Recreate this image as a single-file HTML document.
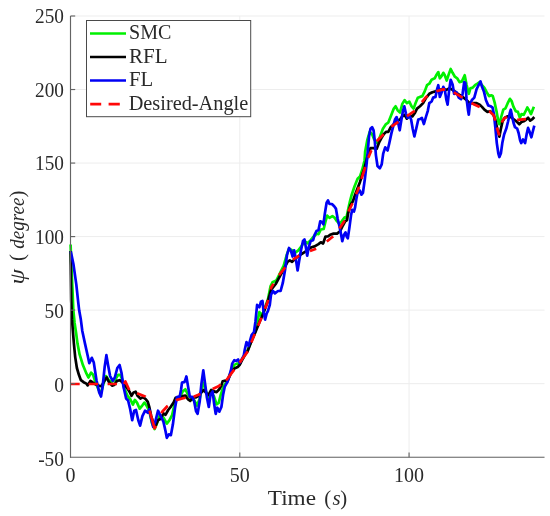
<!DOCTYPE html>
<html><head><meta charset="utf-8"><title>plot</title>
<style>
html,body{margin:0;padding:0;background:#fff;}
svg{display:block;}
text{font-family:"Liberation Serif","DejaVu Serif",serif;fill:#2a2a2a;}
</style></head><body>
<svg width="550" height="516" viewBox="0 0 550 516">
<rect width="550" height="516" fill="#fff"/>
<g stroke="#ededed" stroke-width="1" fill="none"><line x1="70.50" y1="16.0" x2="70.50" y2="457.2"/><line x1="239.79" y1="16.0" x2="239.79" y2="457.2"/><line x1="409.07" y1="16.0" x2="409.07" y2="457.2"/><line x1="70.5" y1="457.20" x2="544.5" y2="457.20"/><line x1="70.5" y1="383.67" x2="544.5" y2="383.67"/><line x1="70.5" y1="310.13" x2="544.5" y2="310.13"/><line x1="70.5" y1="236.60" x2="544.5" y2="236.60"/><line x1="70.5" y1="163.07" x2="544.5" y2="163.07"/><line x1="70.5" y1="89.53" x2="544.5" y2="89.53"/><line x1="70.5" y1="16.00" x2="544.5" y2="16.00"/></g>
<g fill="none" stroke-linejoin="round" stroke-linecap="butt" stroke-width="2.7">
<path stroke="#00f000" d="M70.6,244.5 L71.2,262.0 L72.5,290.0 L73.3,310.0 L74.6,323.0 L76.1,333.0 L77.5,343.6 L79.6,354.4 L83.0,365.3 L86.4,373.4 L88.4,377.5 L91.1,372.7 L93.1,374.8 L95.2,381.6 L98.6,389.7 L100.6,393.8 L103.3,384.3 L106.0,376.1 L108.7,380.2 L111.5,382.2 L114.8,380.2 L118.2,374.8 L120.3,374.8 L123.0,381.6 L124.0,387.6 L127.5,395.8 L130.2,399.2 L132.9,404.6 L134.9,399.9 L137.0,402.6 L139.7,408.7 L142.4,405.3 L144.4,402.6 L147.1,406.6 L149.2,410.7 L151.9,422.9 L154.6,429.0 L156.6,424.3 L159.3,416.1 L163.4,417.5 L166.8,423.6 L169.5,420.2 L172.2,414.8 L174.3,405.3 L177.0,397.8 L180.4,396.5 L182.7,391.4 L185.4,389.3 L188.1,394.8 L190.9,398.8 L194.2,400.2 L197.0,405.6 L199.7,398.8 L202.4,385.3 L203.7,382.6 L205.8,390.7 L208.5,397.5 L211.2,393.4 L213.9,396.1 L216.6,404.3 L218.7,402.9 L220.7,394.8 L223.4,386.6 L226.1,382.6 L228.8,377.1 L231.6,370.4 L234.3,364.9 L237.0,363.6 L239.7,363.6 L242.4,358.8 L245.1,354.1 L247.8,350.0 L251.0,342.0 L255.5,331.0 L259.4,312.0 L260.5,315.0 L263.3,312.5 L267.9,299.5 L270.6,286.0 L272.5,282.3 L276.4,280.4 L277.8,277.6 L283.6,265.8 L286.7,255.0 L289.0,248.8 L292.1,250.3 L295.2,252.6 L298.3,250.3 L301.4,246.4 L304.5,241.0 L307.6,243.3 L310.7,240.2 L313.8,236.4 L316.9,233.8 L318.5,234.2 L320.8,229.5 L323.7,229.0 L325.5,221.4 L327.2,215.6 L329.5,217.9 L332.4,216.2 L334.8,217.9 L337.1,221.4 L339.4,223.7 L341.7,221.4 L344.7,217.3 L346.4,217.9 L348.1,209.8 L349.9,201.6 L351.4,195.8 L354.5,186.5 L357.6,178.8 L360.0,176.4 L362.3,169.5 L364.6,160.2 L365.1,152.0 L367.4,139.6 L369.7,132.0 L372.0,134.0 L374.0,139.0 L376.7,142.7 L379.5,138.0 L382.9,128.8 L386.0,124.1 L388.3,122.6 L390.7,116.4 L393.8,108.6 L395.6,106.3 L397.6,110.2 L400.0,112.5 L402.3,103.9 L404.6,100.1 L406.9,103.2 L409.3,101.6 L411.6,106.3 L413.6,108.6 L415.5,103.2 L417.8,97.8 L420.0,96.9 L422.3,96.1 L424.7,91.4 L427.0,85.2 L429.3,83.7 L431.6,79.8 L434.7,78.3 L436.7,74.4 L438.3,72.1 L439.8,78.3 L441.7,75.9 L443.3,72.8 L444.8,75.2 L446.7,80.6 L448.7,74.4 L450.7,69.0 L452.6,72.8 L454.9,76.7 L457.2,78.3 L459.5,82.1 L461.9,81.4 L464.7,75.2 L466.5,84.5 L468.8,93.8 L470.4,88.3 L472.7,87.6 L475.0,85.2 L477.4,83.7 L479.7,82.1 L482.0,85.2 L484.3,87.6 L486.7,92.2 L489.0,96.1 L491.3,95.3 L492.7,95.9 L494.6,102.4 L496.5,111.2 L498.3,121.3 L499.4,124.2 L501.2,117.0 L503.3,109.7 L505.5,108.3 L507.7,103.2 L509.9,98.8 L511.6,101.0 L513.5,106.8 L515.7,111.2 L517.9,111.9 L519.8,117.7 L521.5,114.1 L523.7,114.8 L525.6,111.2 L527.3,107.5 L529.1,110.4 L531.0,114.1 L532.4,110.4 L533.9,106.8"/>
<path stroke="#000" d="M70.6,251.0 L70.9,275.0 L71.2,300.0 L72.0,319.4 L72.8,330.0 L73.9,343.6 L75.2,357.1 L76.9,368.0 L78.9,374.8 L80.9,380.2 L83.6,382.2 L86.4,383.6 L87.7,385.4 L90.4,380.9 L92.5,382.2 L95.2,384.3 L98.6,385.6 L101.3,386.3 L104.0,381.6 L106.7,377.5 L108.7,381.6 L112.1,385.6 L114.2,385.0 L116.9,380.9 L119.6,380.2 L121.6,381.6 L123.4,383.6 L126.8,387.6 L129.5,391.7 L131.5,395.8 L133.6,392.4 L135.6,391.7 L137.6,395.8 L140.4,398.5 L143.1,397.1 L145.8,399.2 L147.8,401.9 L149.2,406.6 L151.2,416.1 L153.9,424.3 L156.0,425.0 L158.0,420.2 L160.7,418.8 L163.4,413.4 L165.5,414.8 L168.2,410.0 L170.9,406.6 L173.6,402.6 L175.6,397.8 L178.3,397.1 L180.0,397.5 L182.7,396.1 L185.4,395.5 L188.1,399.5 L190.2,400.9 L192.9,397.5 L195.6,397.5 L198.3,396.1 L201.0,392.7 L203.7,390.0 L206.5,393.4 L208.5,394.8 L211.2,390.0 L213.9,391.4 L216.6,392.1 L219.3,389.3 L221.4,385.3 L222.7,381.2 L225.5,380.5 L227.5,381.2 L229.5,376.5 L232.2,370.4 L234.9,368.3 L237.7,367.0 L239.7,364.9 L242.4,359.5 L245.1,354.7 L247.8,350.7 L251.5,341.0 L255.5,332.0 L259.5,322.0 L263.3,313.4 L267.9,301.0 L271.0,290.0 L275.7,284.0 L280.5,275.1 L284.4,268.1 L287.5,261.9 L289.8,260.4 L292.1,261.9 L295.2,258.8 L299.1,255.7 L303.8,252.6 L308.4,249.5 L311.5,247.2 L314.6,246.4 L318.5,244.1 L320.8,242.3 L323.1,243.5 L325.5,236.5 L327.8,236.5 L330.1,234.8 L333.6,233.6 L337.1,233.6 L340.0,231.3 L342.9,225.5 L345.2,221.4 L347.0,220.2 L348.1,213.3 L350.5,205.1 L352.8,201.6 L355.1,194.7 L356.9,190.0 L360.0,181.9 L362.5,174.0 L364.6,167.9 L367.4,156.7 L370.5,148.1 L373.6,148.1 L376.7,148.9 L379.0,142.7 L381.4,138.1 L383.7,134.2 L386.0,131.9 L388.3,131.9 L390.7,127.2 L393.8,124.1 L396.9,121.0 L400.0,119.5 L402.3,116.4 L404.6,114.8 L406.9,118.7 L409.3,115.6 L412.4,116.4 L414.7,113.3 L417.0,108.6 L420.0,106.2 L423.1,103.1 L426.2,97.6 L429.3,93.8 L432.4,92.2 L435.5,91.4 L439.4,89.9 L443.3,89.1 L446.4,89.9 L449.5,88.3 L452.6,89.9 L455.7,92.2 L458.8,94.5 L462.6,96.9 L466.5,100.0 L469.6,103.1 L473.5,103.1 L476.6,103.1 L479.7,104.6 L482.0,106.9 L484.4,109.7 L487.4,111.9 L490.3,111.2 L493.2,114.1 L495.3,119.9 L497.5,130.1 L499.4,136.6 L500.9,128.6 L502.6,121.3 L504.8,117.7 L507.7,116.3 L510.6,117.0 L513.5,119.2 L516.4,121.3 L519.3,124.2 L521.5,122.1 L523.7,121.3 L525.9,119.9 L528.1,117.7 L530.2,120.6 L532.4,119.2 L534.3,117.0"/>
<path stroke="#0000f5" d="M70.8,251.5 L73.4,264.0 L76.3,284.4 L78.4,303.8 L79.2,310.6 L80.8,319.3 L82.3,331.0 L85.0,343.6 L87.7,355.8 L89.3,363.2 L91.8,357.8 L93.8,362.6 L96.5,380.2 L99.2,392.4 L101.0,396.5 L102.6,387.0 L104.7,366.6 L106.4,355.1 L108.1,365.3 L110.1,376.1 L112.8,380.9 L114.8,377.5 L117.3,368.0 L119.6,365.0 L121.6,373.4 L123.4,386.3 L126.1,398.5 L128.1,400.5 L130.2,409.3 L132.2,420.2 L134.2,410.7 L136.0,410.0 L138.3,420.2 L140.1,425.6 L142.4,416.1 L145.1,410.7 L147.8,412.7 L149.2,409.3 L151.2,418.8 L153.2,427.0 L155.3,421.6 L158.0,410.7 L160.7,416.1 L163.4,421.6 L165.5,431.0 L166.8,437.8 L168.8,434.4 L170.9,435.1 L172.9,424.3 L175.0,408.0 L177.0,397.1 L179.7,396.5 L181.0,390.0 L182.0,382.6 L184.7,381.9 L186.4,376.5 L188.1,386.6 L189.8,396.8 L192.2,396.8 L194.2,401.6 L196.0,411.0 L197.6,413.8 L199.7,401.6 L201.4,383.9 L203.3,370.4 L205.1,383.9 L206.9,397.5 L208.8,407.0 L210.5,394.8 L212.6,391.4 L214.2,404.3 L215.7,413.8 L217.3,407.7 L219.3,411.7 L221.4,407.0 L223.1,394.8 L224.8,386.6 L227.5,381.9 L229.1,376.5 L230.9,370.4 L232.2,363.6 L234.3,360.2 L236.3,360.9 L238.1,359.5 L239.7,362.9 L241.7,359.5 L243.8,355.4 L244.7,350.0 L246.5,342.1 L248.5,346.0 L251.6,335.1 L254.0,332.0 L255.5,321.2 L257.1,304.9 L259.4,307.2 L260.9,301.8 L262.5,301.0 L263.6,311.9 L265.1,319.6 L266.7,313.4 L267.9,311.1 L269.8,304.9 L271.0,294.8 L272.9,291.0 L274.9,293.3 L278.0,291.0 L280.6,291.0 L282.8,282.9 L285.2,268.9 L287.0,255.0 L289.0,248.0 L291.0,251.1 L292.6,256.5 L294.1,250.3 L295.7,258.1 L297.6,270.5 L299.1,261.2 L301.0,250.3 L303.0,241.0 L304.5,239.5 L306.1,248.8 L307.2,255.7 L308.7,247.2 L310.7,241.0 L313.1,240.2 L314.6,234.8 L316.7,230.7 L318.5,230.1 L320.2,221.4 L322.0,222.0 L323.4,224.3 L324.9,213.3 L326.6,202.8 L328.0,200.5 L329.5,204.0 L331.9,204.0 L334.2,206.3 L335.9,208.6 L337.7,219.1 L339.4,226.0 L340.8,233.0 L342.3,241.2 L343.8,235.3 L345.5,232.4 L346.6,236.5 L347.8,238.3 L349.3,228.4 L351.0,215.6 L352.2,209.8 L354.0,211.5 L355.1,207.4 L356.3,199.3 L357.4,193.5 L359.8,190.5 L361.5,194.7 L362.9,193.0 L364.9,178.8 L366.5,164.8 L367.7,152.4 L369.0,136.5 L370.5,128.8 L372.1,127.2 L373.6,130.3 L374.8,141.2 L375.9,155.1 L377.5,166.0 L379.8,168.3 L381.7,164.4 L383.2,153.6 L385.2,147.4 L387.6,150.5 L389.4,142.7 L391.4,133.4 L393.4,125.7 L395.0,119.5 L396.6,117.1 L398.1,122.6 L399.7,130.3 L401.2,121.0 L402.8,111.7 L404.3,106.3 L405.9,113.3 L407.4,117.9 L409.3,115.6 L411.1,119.5 L412.7,128.8 L414.4,136.5 L416.2,128.8 L418.3,119.5 L420.1,119.0 L421.9,118.0 L423.9,124.0 L425.9,117.0 L427.8,110.8 L429.3,103.1 L431.6,101.5 L433.2,97.6 L435.5,96.9 L437.1,89.1 L438.3,85.2 L439.8,96.9 L441.7,92.2 L443.3,86.8 L444.8,89.9 L446.4,100.0 L447.6,104.6 L449.1,90.7 L450.7,79.8 L452.6,84.5 L454.1,93.8 L456.4,92.2 L458.8,97.6 L461.1,99.2 L462.6,93.8 L464.2,82.1 L465.3,82.9 L466.5,98.4 L468.1,110.8 L468.8,114.7 L469.9,104.6 L471.9,100.0 L474.3,97.6 L476.6,89.1 L478.9,84.5 L480.5,81.4 L482.0,86.8 L483.9,91.4 L485.9,100.0 L488.2,105.4 L490.5,106.2 L492.6,107.7 L493.9,114.1 L495.3,127.2 L496.8,143.1 L498.3,153.3 L499.4,157.0 L500.9,153.3 L502.3,143.1 L504.1,134.4 L506.3,128.6 L508.1,121.3 L509.9,112.6 L510.8,109.7 L512.1,116.3 L513.5,122.8 L515.0,127.2 L517.2,128.6 L518.6,133.0 L520.1,140.2 L521.2,143.1 L523.0,139.5 L525.1,143.1 L526.6,134.4 L528.1,127.9 L529.5,131.5 L531.4,137.3 L532.8,131.5 L534.3,125.7"/>
<path stroke="#ff0808" d="M70.5,384.0 L79.7,384.0 M88.6,384.0 L98.1,384.0 M107.6,384.0 L117.0,384.0 M124.1,383.8 L125.4,381.5 L129.3,390.0 M137.1,393.2 L138.3,393.7 L145.1,396.5 L145.4,396.9 M149.6,410.7 L151.9,418.8 L154.6,428.3 L156.0,425.8 M161.5,413.2 L162.0,412.0 L167.5,406.0 L167.8,405.8 M176.1,400.5 L177.0,399.9 L185.1,397.8 L185.6,397.7 M193.6,396.8 L200.4,394.1 M212.6,389.0 L218.0,386.6 L220.7,384.6 M226.1,380.5 L231.6,373.1 L234.3,369.7 M239.7,362.6 L242.4,358.8 L247.8,351.4 M251.3,342.6 L254.7,334.0 M258.1,325.8 L261.5,317.7 M265.0,308.8 L267.9,301.0 L268.2,299.8 M270.7,289.5 L271.2,287.5 L273.5,283.8 M279.0,275.1 L285.2,267.4 M292.9,259.6 L299.1,255.7 M310.0,251.1 L316.2,248.8 M326.8,241.5 L333.0,236.5 L333.1,236.4 M339.4,228.4 L344.1,221.4 L344.5,220.5 M348.5,211.4 L348.7,210.9 L352.2,204.0 L352.5,203.2 M356.0,194.1 L358.0,190.0 L359.0,186.8 M361.5,178.8 L364.6,169.0 L365.2,167.0 M368.3,157.7 L371.3,150.5 L371.5,150.2 M376.7,141.2 L382.9,135.0 L383.7,134.2 M391.4,126.7 L398.4,121.8 M406.9,116.1 L407.7,115.6 L414.7,110.9 M421.9,102.2 L426.2,96.9 L427.7,96.0 M436.4,91.2 L443.3,89.4 L445.1,89.7 M453.8,92.4 L458.8,95.3 L462.5,97.6 M471.5,102.9 L474.3,104.6 L479.7,107.1 M489.1,111.0 L489.5,111.2 L493.9,115.5 L495.2,120.7 M496.9,127.5 L499.0,134.4 L499.3,133.2 M501.8,122.5 L501.9,122.1 L504.1,118.4 L506.9,116.8 M517.1,119.9 L517.2,119.9 L525.9,119.2 L526.0,119.2"/>
</g>
<g stroke="#646464" stroke-width="1.15" fill="none">
<line x1="70.5" y1="16.0" x2="70.5" y2="457.7"/>
<line x1="70.0" y1="457.2" x2="544.5" y2="457.2"/>
<line x1="239.79" y1="457.2" x2="239.79" y2="452.5"/><line x1="409.07" y1="457.2" x2="409.07" y2="452.5"/><line x1="70.5" y1="383.67" x2="75.2" y2="383.67"/><line x1="70.5" y1="310.13" x2="75.2" y2="310.13"/><line x1="70.5" y1="236.60" x2="75.2" y2="236.60"/><line x1="70.5" y1="163.07" x2="75.2" y2="163.07"/><line x1="70.5" y1="89.53" x2="75.2" y2="89.53"/><line x1="70.5" y1="16.00" x2="75.2" y2="16.00"/>
</g>
<g font-size="20"><text x="63.9" y="465.75" text-anchor="end" textLength="25.7" lengthAdjust="spacingAndGlyphs">-50</text><text x="63.9" y="391.92" text-anchor="end" textLength="9.7" lengthAdjust="spacingAndGlyphs">0</text><text x="63.9" y="318.08" text-anchor="end" textLength="19.3" lengthAdjust="spacingAndGlyphs">50</text><text x="63.9" y="244.25" text-anchor="end" textLength="28.9" lengthAdjust="spacingAndGlyphs">100</text><text x="63.9" y="170.42" text-anchor="end" textLength="28.9" lengthAdjust="spacingAndGlyphs">150</text><text x="63.9" y="96.58" text-anchor="end" textLength="28.9" lengthAdjust="spacingAndGlyphs">200</text><text x="63.9" y="22.75" text-anchor="end" textLength="28.9" lengthAdjust="spacingAndGlyphs">250</text><text x="70.50" y="482.2" text-anchor="middle">0</text><text x="239.79" y="482.2" text-anchor="middle">50</text><text x="409.07" y="482.2" text-anchor="middle">100</text></g>
<g>
<rect x="86.5" y="20.5" width="164.2" height="96.2" fill="#fff" stroke="#4a4a4a" stroke-width="1"/>
<g stroke-width="2.7" fill="none">
<line x1="90" y1="33.5" x2="126" y2="33.5" stroke="#00f000"/>
<line x1="90" y1="57" x2="126" y2="57" stroke="#000"/>
<line x1="90" y1="80.5" x2="126" y2="80.5" stroke="#0000f5"/>
<path d="M90.2,104.2H101.2M108.6,104.2H119.8" stroke="#ff0808"/>
</g>
<g font-size="20.2" fill="#1a1a1a">
<text x="129" y="39.4" textLength="42.4" lengthAdjust="spacingAndGlyphs">SMC</text>
<text x="129" y="62.7" textLength="38.6" lengthAdjust="spacingAndGlyphs">RFL</text>
<text x="129" y="86.2" textLength="24.2" lengthAdjust="spacingAndGlyphs">FL</text>
<text x="128.7" y="109.8" textLength="119.5" lengthAdjust="spacingAndGlyphs">Desired-Angle</text>
</g>
</g>
<g font-size="20.8">
<text x="267.8" y="505.2" textLength="48.2" lengthAdjust="spacingAndGlyphs">Time</text>
<text x="324.2" y="505">(</text>
<text x="332.4" y="505" font-style="italic">s</text>
<text x="340.2" y="505">)</text>
</g>
<g transform="translate(24.4,0) rotate(-90)" font-size="20.8">
<text transform="translate(-284.6,0) scale(1.2,1)" font-style="italic">ψ</text>
<text x="-261" y="0">(</text>
<text transform="translate(-248.8,0) scale(0.92,1)" font-style="italic">degree</text>
<text x="-197.6" y="0">)</text>
</g>
</svg>
</body></html>
